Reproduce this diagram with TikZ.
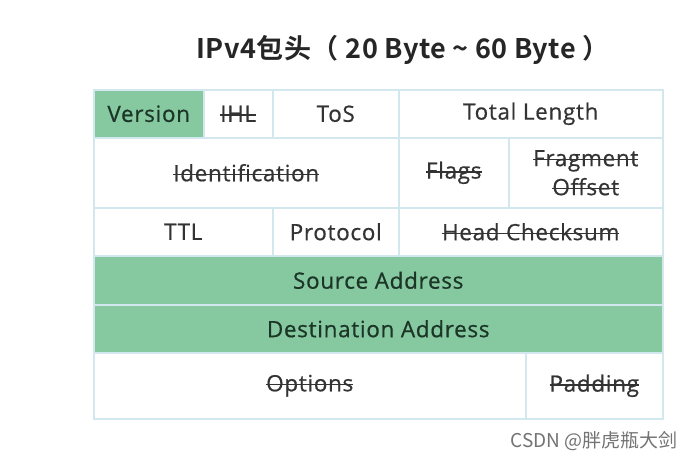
\documentclass[tikz,border=0pt]{standalone}
\usepackage{fontspec}
\setmainfont[LetterSpace=3,FakeBold=0.6]{Open Sans}
\newfontfamily\cjk{Noto Sans CJK SC}
\newfontfamily\cjkbold[LetterSpace=2]{Noto Sans CJK SC Bold}
\definecolor{cellgreen}{HTML}{86C9A1}
\definecolor{cellborder}{HTML}{D3E8EE}
\definecolor{celltext}{HTML}{333333}
\definecolor{greentext}{HTML}{1B3526}
\newcommand{\strk}[1]{\setbox0\hbox{#1}\rlap{\rule[0.27em]{\wd0}{1.5pt}}\box0}
\begin{document}
\begin{tikzpicture}[x=1pt,y=-1pt,
  cell/.style={draw=cellborder, line width=1.5pt, fill=white, anchor=north west,
    inner sep=0pt, align=center, text=celltext,
    font=\fontsize{22.5}{25}\selectfont},
  gcell/.style={cell, fill=cellgreen, text=greentext}]
\useasboundingbox (0,0) rectangle (692,460);
\fill[white] (0,0) rectangle (692,460);
% title
\node[font=\cjkbold\fontsize{27}{30}\selectfont, text=black!85] (title) at (403,50)
  {IPv4包头（ 20 Byte \char`~{} 60 Byte ）};
% row 1
\node[gcell, minimum width=110, minimum height=48] (ver) at (93,89) {Version};
\node[cell, minimum width=69, minimum height=48] (ihl) at (203,89) {\strk{IHL}};
\node[cell, minimum width=126, minimum height=48] (tos) at (272,89) {ToS};
\node[cell, minimum width=264, minimum height=48] (tl) at (398,89) {Total Length};
% row 2
\node[cell, minimum width=305, minimum height=70] (id) at (93,137) {\strk{Identification}};
\node[cell, minimum width=110, minimum height=70] (flags) at (398,137) {\strk{Flags}};
\node[cell, minimum width=154, minimum height=70] (frag) at (508,137) {\strk{Fragment}\\[4pt]\strk{Offset}};
% row 3
\node[cell, minimum width=179, minimum height=48] (ttl) at (93,207) {TTL};
\node[cell, minimum width=126, minimum height=48] (proto) at (272,207) {Protocol};
\node[cell, minimum width=264, minimum height=48] (chk) at (398,207) {\strk{Head Checksum}};
% rows 4-5
\node[gcell, minimum width=569, minimum height=49] (src) at (93,255) {Source Address};
\node[gcell, minimum width=569, minimum height=48] (dst) at (93,304) {Destination Address};
% row 6
\node[cell, minimum width=432, minimum height=66] (opt) at (93,352) {\strk{Options}};
\node[cell, minimum width=137, minimum height=66] (pad) at (525,352) {\strk{Padding}};
% watermark
\node[font=\cjk\fontsize{19}{21}\selectfont, text=black!55, anchor=east] (wm) at (681,441) {CSDN @胖虎瓶大剑};
\end{tikzpicture}
\end{document}
